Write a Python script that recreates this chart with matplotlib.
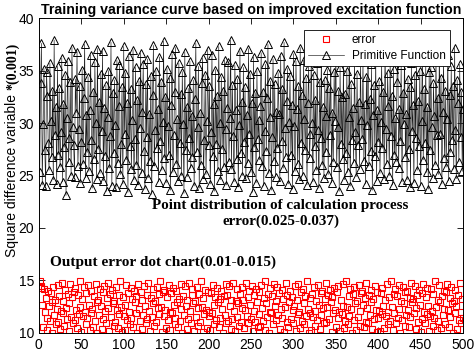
import numpy as np
import matplotlib
matplotlib.use("Agg")
import matplotlib.pyplot as plt

# Primitive Function values (black triangles), read off roughly row by row
primitive = [
    25.3, 33.8, 37.6, 24.1, 29.9, 35.2, 27.4, 24.0, 34.9, 32.6, 28.1, 25.5, 35.7, 30.2, 26.8, 33.1, 24.6, 37.9, 28.9, 31.5,
    24.2, 35.4, 27.0, 33.3, 25.8, 29.1, 36.2, 24.4, 31.8, 27.7, 34.6, 23.1, 30.5, 35.9, 26.3, 28.6, 33.9, 25.0, 37.2, 29.6,
    27.9, 24.9, 34.2, 31.0, 36.8, 25.9, 29.4, 33.5, 24.3, 28.2, 35.1, 26.1, 32.4, 37.5, 24.8, 30.8, 27.2, 34.4, 25.4, 31.2,
    36.5, 28.4, 23.8, 33.0, 26.6, 35.8, 30.0, 24.7, 37.1, 27.5, 32.0, 25.2, 34.7, 29.2, 36.9, 24.5, 31.4, 26.9, 33.6, 23.5,
    30.6, 35.0, 25.7, 28.8, 37.7, 24.0, 32.9, 27.1, 34.1, 29.8, 23.9, 36.0, 26.2, 31.6, 35.5, 25.1, 28.0, 33.4, 24.2, 37.3,
    29.0, 34.8, 26.5, 31.9, 23.4, 36.4, 27.8, 33.2, 25.6, 30.3, 37.0, 24.6, 28.5, 35.3, 26.0, 32.2, 24.1, 34.0, 29.5, 36.7,
    25.2, 31.1, 35.6, 27.3, 23.7, 33.7, 28.7, 36.1, 24.8, 30.9, 26.4, 34.5, 23.2, 32.7, 37.4, 25.9, 29.3, 35.0, 27.6, 31.3,
    24.4, 36.3, 28.3, 33.9, 25.5, 30.1, 37.8, 26.7, 32.5, 24.3, 35.2, 29.7, 27.0, 34.3, 23.6, 31.7, 36.6, 25.3, 28.9, 33.0,
    37.2, 26.1, 30.4, 24.5, 35.7, 28.1, 32.8, 25.0, 34.9, 29.9, 23.3, 36.8, 27.4, 31.5, 24.9, 33.3, 28.6, 35.9, 25.7, 30.7,
    26.8, 34.1, 24.0, 32.3, 37.6, 27.2, 29.6, 35.4, 23.8, 31.0, 26.0, 33.8, 36.2, 24.7, 28.4, 34.6, 25.1, 30.2, 37.0, 27.9,
    33.5, 24.2, 29.1, 36.5, 26.9, 31.8, 23.5, 35.1, 28.0, 32.6, 25.4, 37.3, 30.0, 24.6, 34.4, 27.5, 33.1, 25.8, 36.0, 29.4,
    24.1, 31.4, 35.8, 26.3, 30.5, 37.9, 25.6, 33.6, 28.8, 24.4, 35.5, 31.2, 26.6, 34.2, 23.9, 29.8, 36.9, 27.1, 32.0, 25.0,
    35.3, 28.2, 33.4, 24.8, 30.8, 26.2, 37.1, 29.0, 34.7, 25.3, 31.9, 23.4, 36.3, 27.7, 32.9, 24.3, 35.0, 28.5, 30.3, 26.5,
    31.6, 36.7, 25.9, 33.0, 24.0, 29.2, 35.6, 27.3, 32.4, 37.5, 25.2, 30.6, 34.0, 23.6, 28.7, 36.1, 26.4, 33.7, 24.9, 31.1,
    27.6, 34.8, 30.9, 24.5, 36.4, 28.3, 33.2, 25.7, 37.7, 29.5, 26.8, 32.1, 35.2, 24.2, 30.1, 34.5, 27.0, 31.7, 23.7, 36.6,
    29.7, 25.4, 35.9, 31.3, 26.1, 33.5, 24.7, 37.2, 28.1, 32.7, 25.0, 36.0, 30.4, 27.4, 34.3, 24.1, 31.9, 35.4, 26.7, 29.0,
    36.2, 30.0, 24.4, 34.6, 27.8, 32.2, 25.5, 35.7, 29.3, 23.8, 33.9, 28.6, 37.0, 26.0, 31.5, 24.8, 34.1, 27.2, 30.7, 35.1,
    25.1, 33.3, 28.9, 36.8, 24.3, 31.0, 26.3, 34.9, 30.2, 37.4, 25.8, 29.6, 33.1, 23.5, 35.3, 28.0, 32.5, 26.6, 36.5, 24.6,
    32.8, 27.1, 35.0, 25.3, 30.6, 37.6, 24.0, 33.7, 28.4, 31.4, 26.2, 36.3, 29.1, 24.9, 34.7, 27.9, 32.0, 25.6, 35.8, 30.3,
    28.5, 36.1, 26.4, 31.8, 24.2, 34.4, 29.8, 37.1, 25.9, 32.3, 27.3, 35.6, 23.6, 30.8, 33.6, 26.9, 36.7, 24.5, 31.2, 28.2,
    34.0, 25.2, 30.1, 35.9, 27.6, 33.0, 24.7, 37.8, 29.4, 26.1, 34.8, 31.6, 25.0, 36.4, 28.8, 32.6, 24.1, 35.2, 27.0, 30.5,
    26.3, 33.9, 37.3, 25.7, 31.3, 28.3, 35.5, 24.4, 32.9, 29.9, 36.9, 26.8, 30.9, 24.6, 34.2, 27.5, 33.4, 23.9, 35.7, 29.2,
    31.7, 24.3, 34.6, 28.6, 36.2, 25.5, 32.1, 27.8, 35.0, 24.0, 30.2, 37.0, 26.5, 33.2, 28.1, 35.8, 25.3, 31.5, 23.7, 34.9,
    27.4, 35.3, 29.6, 24.8, 33.8, 30.7, 26.0, 36.6, 28.9, 32.4, 25.1, 37.5, 29.0, 34.3, 24.2, 31.1, 36.0, 26.7, 33.1, 25.8,
    30.4, 36.5, 24.5, 32.7, 27.2, 35.4, 28.4, 33.5, 25.6, 37.2, 29.3, 24.7, 34.1, 31.9, 26.3, 35.6, 28.7, 33.0, 25.4, 31.3,
]

# output error values (red squares)
error = [
    14.9, 14.3, 14.5, 12.7, 10.6, 14.2, 12.0, 13.3, 11.4, 10.3, 14.0, 12.6, 11.1, 13.8, 10.0, 12.9, 14.4, 11.7, 13.1, 10.8,
    12.3, 14.6, 11.0, 13.5, 10.4, 12.1, 14.8, 11.9, 13.0, 10.7, 14.1, 12.4, 11.3, 13.7, 10.2, 12.8, 14.7, 11.5, 13.4, 10.9,
    13.9, 11.2, 14.3, 12.2, 10.5, 13.6, 11.8, 14.9, 12.5, 10.1, 13.2, 11.6, 14.4, 12.0, 10.8, 13.8, 11.4, 14.6, 12.7, 10.3,
    11.9, 14.0, 12.3, 10.6, 13.5, 11.1, 14.7, 12.9, 10.0, 13.1, 11.7, 14.2, 12.6, 10.4, 13.9, 11.3, 14.5, 12.1, 10.9, 13.3,
    14.8, 12.4, 10.2, 13.7, 11.5, 14.1, 12.8, 10.7, 13.0, 11.0, 14.4, 12.2, 10.5, 13.6, 11.8, 14.9, 12.5, 10.1, 13.4, 11.6,
    12.7, 10.3, 14.6, 11.2, 13.8, 12.0, 10.8, 14.3, 11.4, 13.2, 10.6, 14.0, 12.9, 11.9, 13.5, 10.0, 14.7, 12.3, 11.1, 13.9,
    10.4, 13.1, 11.7, 14.5, 12.6, 10.9, 13.6, 11.3, 14.8, 12.1, 10.2, 13.3, 11.5, 14.2, 12.8, 10.7, 13.0, 11.0, 14.4, 12.4,
    13.7, 11.8, 14.9, 12.5, 10.1, 13.9, 11.6, 14.1, 12.2, 10.5, 13.4, 11.2, 14.6, 12.0, 10.3, 13.8, 11.9, 14.3, 12.7, 10.8,
    11.4, 14.0, 12.9, 10.6, 13.2, 11.1, 14.7, 12.3, 10.0, 13.5, 11.7, 14.5, 12.6, 10.4, 13.1, 11.3, 14.8, 12.1, 10.9, 13.6,
    14.2, 12.8, 10.2, 13.0, 11.5, 14.4, 12.4, 10.7, 13.7, 11.0, 14.9, 12.5, 10.1, 13.3, 11.8, 14.1, 12.2, 10.5, 13.9, 11.6,
    12.0, 10.3, 13.8, 11.9, 14.6, 12.7, 10.8, 13.4, 11.2, 14.3, 12.9, 10.6, 13.2, 11.4, 14.0, 12.3, 10.0, 13.5, 11.7, 14.7,
    10.9, 13.6, 11.1, 14.5, 12.6, 10.4, 13.1, 11.3, 14.8, 12.1, 10.2, 13.0, 11.5, 14.2, 12.8, 10.7, 13.7, 11.0, 14.4, 12.4,
    13.1, 10.5, 12.2, 14.8, 11.6, 13.4, 10.9, 14.0, 12.7, 11.3, 14.5, 10.2, 13.6, 12.1, 11.0, 14.2, 12.9, 10.6, 13.9, 11.8,
    10.7, 14.6, 12.4, 11.1, 13.3, 14.9, 10.3, 12.8, 11.5, 13.7, 10.0, 14.3, 12.0, 11.9, 13.5, 10.8, 14.7, 12.6, 11.2, 13.0,
    14.4, 11.7, 13.8, 10.4, 12.3, 14.1, 11.4, 13.2, 10.1, 12.5, 14.8, 11.0, 13.6, 10.6, 12.9, 14.0, 11.3, 13.4, 10.9, 12.2,
    12.6, 14.5, 10.2, 13.1, 11.8, 14.7, 12.0, 10.5, 13.9, 11.1, 14.2, 12.8, 10.8, 13.5, 11.6, 14.9, 12.3, 10.0, 13.3, 11.9,
    10.3, 13.7, 11.5, 14.4, 12.1, 10.7, 13.0, 11.2, 14.6, 12.7, 10.4, 13.8, 11.7, 14.0, 12.4, 10.9, 13.2, 11.0, 14.8, 12.5,
    13.6, 11.3, 14.1, 12.9, 10.1, 13.4, 11.9, 14.3, 12.2, 10.6, 13.9, 11.4, 14.5, 12.0, 10.2, 13.1, 11.8, 14.7, 12.6, 10.5,
    11.1, 14.9, 12.5, 10.8, 13.5, 11.6, 14.2, 12.3, 10.0, 13.7, 11.2, 14.4, 12.8, 10.3, 13.0, 11.5, 14.6, 12.1, 10.7, 13.8,
    14.0, 12.7, 10.6, 13.3, 11.0, 14.8, 12.4, 10.9, 13.6, 11.7, 14.1, 12.9, 10.4, 13.2, 11.3, 14.5, 12.2, 10.1, 13.9, 11.4,
    12.1, 10.2, 13.8, 11.8, 14.3, 12.6, 10.5, 13.1, 11.6, 14.7, 12.0, 10.8, 13.4, 11.1, 14.9, 12.5, 10.3, 13.7, 11.9, 14.2,
    10.9, 13.5, 11.4, 14.6, 12.3, 10.0, 13.0, 11.2, 14.4, 12.8, 10.7, 13.9, 11.7, 14.0, 12.2, 10.6, 13.3, 11.5, 14.8, 12.9,
    13.2, 11.9, 14.5, 12.4, 10.4, 13.6, 11.0, 14.1, 12.7, 10.1, 13.8, 11.3, 14.7, 12.0, 10.9, 13.4, 11.8, 14.3, 12.6, 10.2,
    11.6, 14.2, 12.1, 10.7, 13.7, 11.4, 14.9, 12.5, 10.3, 13.1, 11.1, 14.6, 12.9, 10.5, 13.5, 11.7, 14.0, 12.3, 10.8, 13.9,
    14.7, 12.2, 10.6, 13.3, 11.5, 14.4, 12.8, 10.0, 13.0, 11.9, 14.1, 12.6, 10.4, 13.6, 11.2, 14.8, 12.0, 10.9, 13.2, 11.4,
]

samples = np.arange(1, len(primitive) + 1)

x_ticks = [0, 50, 100, 150, 200, 250, 300, 350, 400, 450, 500]
y_ticks = [10, 15, 20, 25, 30, 35, 40]

sans = "Liberation Sans"
serif = "Liberation Serif"

fig = plt.figure(figsize=(4.74, 3.56), dpi=100)
ax = fig.add_axes([0.082, 0.065, 0.895, 0.884])

ax.plot(samples, error, linestyle="none", marker="s", markersize=4.8,
        markerfacecolor="none", markeredgecolor="red", markeredgewidth=0.8,
        label="error")
ax.plot(samples, primitive, color="#1a1a1a", linewidth=0.45, marker="^",
        markersize=6.3, markerfacecolor="none", markeredgecolor="black",
        markeredgewidth=0.7, label="Primitive Function")

ax.set_xlim(0, 500)
ax.set_ylim(10, 40)
ax.set_xticks(x_ticks)
ax.set_yticks(y_ticks)
ax.tick_params(direction="in", length=4, width=0.6, top=True, right=True,
               labelsize=10)
for lab in ax.get_xticklabels() + ax.get_yticklabels():
    lab.set_family(sans)
for sp in ax.spines.values():
    sp.set_linewidth(0.7)

ax.set_title("Training variance curve based on improved excitation function",
             fontsize=10.2, fontweight="bold", family=sans, pad=3)

leg = ax.legend(loc="upper right", bbox_to_anchor=(0.969, 0.962),
                borderaxespad=0, prop={"family": sans, "size": 8.5},
                fancybox=False, framealpha=1, edgecolor="black",
                handlelength=3.0, borderpad=0.35, labelspacing=0.3,
                handletextpad=0.7)
leg.get_frame().set_linewidth(0.6)

ax.text(285, 21.4, "Point distribution of calculation process\nerror(0.025-0.037)",
        ha="center", va="center", family=serif, fontweight="bold",
        fontsize=10.9, linespacing=1.2)
ax.text(13, 16.7, "Output error dot chart(0.01-0.015)", ha="left",
        va="center", family=serif, fontweight="bold", fontsize=11)

# y label: sans part plus serif bold unit
lbl1 = fig.text(0.026, 0.278, "Square difference variable ", rotation=90,
                ha="center", va="bottom", family=sans, fontsize=10)
fig.canvas.draw()
bb = lbl1.get_window_extent()
top = bb.y1 / fig.bbox.height
fig.text(0.026, top, "*(0.001)", rotation=90, ha="center", va="bottom",
         family=serif, fontweight="bold", fontsize=10)

fig.savefig("out.png", dpi=100)
